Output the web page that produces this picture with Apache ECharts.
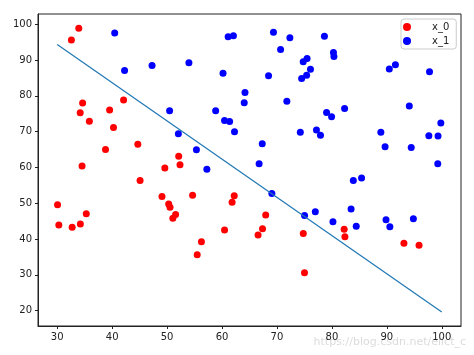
<!DOCTYPE html>
<html>
<head>
<meta charset="utf-8">
<script src="https://cdn.jsdelivr.net/npm/echarts@6/dist/echarts.min.js"></script>
<style>
html,body{margin:0;padding:0;background:#fff;}
#chart{width:474px;height:355px;}
</style>
</head>
<body>
<div id="chart"></div>
<script>
// class 0 (red) : [exam1, exam2]
const points0 = [
[34.62,78.02],[30.29,43.89],[35.85,72.90],[45.08,56.32],[95.86,38.23],[75.01,30.60],
[39.54,76.04],[67.95,46.68],[67.37,42.84],[50.53,48.86],[34.21,44.21],[93.11,38.80],
[61.83,50.26],[38.79,65.00],[52.11,63.13],[40.24,71.17],[54.64,52.21],[33.92,98.87],
[74.79,41.57],[34.18,75.24],[51.55,46.86],[82.37,40.62],[51.05,45.82],[62.22,52.06],
[34.52,60.40],[50.29,49.80],[49.59,59.81],[32.58,95.60],[35.29,47.02],[56.25,39.26],
[30.06,49.59],[44.67,66.45],[66.56,41.09],[49.07,51.88],[32.72,43.31],[60.46,42.51],
[82.23,42.72],[42.08,78.84],[52.35,60.77],[55.48,35.57]
];
// class 1 (blue)
const points1 = [
[60.18,86.31],[79.03,75.34],[61.11,96.51],[75.02,46.55],[76.10,87.42],[84.43,43.53],
[82.31,76.48],[69.36,97.72],[53.97,89.21],[69.07,52.74],[70.66,92.93],[76.98,47.58],
[89.68,65.80],[77.92,68.97],[62.27,69.95],[80.19,44.82],[61.38,72.81],[85.40,57.05],
[52.05,69.43],[64.18,80.91],[83.90,56.31],[94.44,65.57],[77.19,70.46],[97.77,86.73],
[62.07,96.77],[91.56,88.70],[79.94,74.16],[99.27,61.00],[90.55,43.39],[97.65,68.86],
[74.25,69.82],[71.80,78.45],[75.40,85.76],[40.46,97.54],[80.28,92.12],[66.75,60.99],
[64.04,78.03],[72.35,96.23],[60.46,73.09],[58.84,75.86],[99.83,72.37],[47.26,88.48],
[50.46,75.81],[88.91,69.80],[94.83,45.69],[67.32,66.59],[57.24,59.51],[80.37,90.96],
[68.47,85.59],[75.48,90.42],[78.64,96.65],[94.09,77.16],[90.45,87.51],[74.49,84.85],
[89.85,45.36],[83.49,48.38],[42.26,87.10],[99.32,68.78],[55.34,64.93],[74.78,89.53]
];
// decision boundary
const boundaryX = [30, 100];
const boundaryY = [94.3, 19.6];
// tick labels
const xTicks = [30, 40, 50, 60, 70, 80, 90, 100];
const yTicks = [20, 30, 40, 50, 60, 70, 80, 90, 100];
const seriesNames = ['x_0', 'x_1'];

const font = 'DejaVu Sans';
const chart = echarts.init(document.getElementById('chart'), null, {renderer: 'canvas'});
chart.setOption({
  animation: false,
  backgroundColor: '#fff',
  grid: {left: 38, right: 13, top: 14, bottom: 29, show: true, borderColor: '#222', borderWidth: 1, containLabel: false},
  xAxis: {
    type: 'value', min: 26.5, max: 103.5,
    splitLine: {show: false},
    axisLine: {show: true, onZero: false, lineStyle: {color: '#222', width: 1}},
    axisTick: {show: true, length: 3, customValues: xTicks, lineStyle: {color: '#222'}},
    axisLabel: {customValues: xTicks, margin: 6, color: '#222', fontFamily: font, fontSize: 10}
  },
  yAxis: {
    type: 'value', min: 15.7, max: 102.85,
    splitLine: {show: false},
    axisLine: {show: true, onZero: false, lineStyle: {color: '#222', width: 1}},
    axisTick: {show: true, length: 3, customValues: yTicks, lineStyle: {color: '#222'}},
    axisLabel: {customValues: yTicks, margin: 6, color: '#222', fontFamily: font, fontSize: 10}
  },
  legend: {
    data: seriesNames,
    orient: 'vertical', left: 401, top: 19,
    icon: 'circle', itemWidth: 24, itemHeight: 8, itemGap: 4,
    padding: [3, 7, 3, 2],
    backgroundColor: '#fff', borderColor: '#ccc', borderWidth: 1, borderRadius: 3,
    textStyle: {fontFamily: font, fontSize: 10, color: '#222', padding: [0, 0, 0, 8]}
  },
  series: [
    {name: seriesNames[0], type: 'scatter', data: points0, symbolSize: 7, itemStyle: {color: '#ff0000', opacity: 1}},
    {name: seriesNames[1], type: 'scatter', data: points1, symbolSize: 7, itemStyle: {color: '#0000ff', opacity: 1}},
    {name: 'boundary', type: 'line', data: boundaryX.map((x, i) => [x, boundaryY[i]]), showSymbol: false, symbol: 'none',
     lineStyle: {color: '#1f77b4', width: 1.2}, silent: true}
  ],
  graphic: [{
    type: 'text', right: 8, bottom: 7, silent: true,
    style: {text: 'https://blog.csdn.net/elict_c', fill: 'rgba(190,190,190,0.55)', font: '11px "DejaVu Sans"'}
  }]
});
</script>
</body>
</html>
